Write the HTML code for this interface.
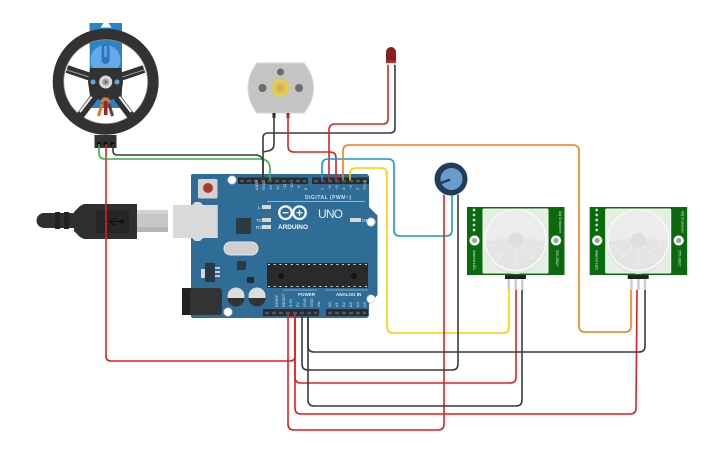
<!DOCTYPE html>
<html><head><meta charset="utf-8"><style>
html,body{margin:0;padding:0;background:#fff;width:725px;height:453px;overflow:hidden}
svg{display:block;font-family:"Liberation Sans",sans-serif}
.w{fill:none;stroke-width:1.6;stroke-linejoin:round}
</style></head><body>
<svg width="725" height="453" viewBox="0 0 725 453" xmlns="http://www.w3.org/2000/svg">
<defs>
<g id="pir">
<rect x="467" y="207" width="97.5" height="68" fill="#0b6a0e"/>
<rect x="483" y="209" width="65" height="64" rx="1" fill="#e3efe3" stroke="#f6f6f6"/>
<circle cx="515.500" cy="240" r="31" fill="#ececec"/>
<path d="M484.500 243a31 31 0 0 0 62 0q-4-5-31-5t-31 5z" fill="#e4e4e4"/>
<circle cx="515.500" cy="240" r="30.500" fill="none" stroke="#f8f8f8" stroke-width="1.500"/>
<circle cx="515.500" cy="240" r="23" fill="none" stroke="#f2f2f2" stroke-width=".6" stroke-dasharray="3 2"/>
<g stroke="#f2f2f2" stroke-width=".6"><path d="M515.500 232v-20M515.500 248v20M507.500 240h-20M523.500 240h20M510 234l-13-13M521 234l13-13M510 246l-13 13M521 246l13 13"/></g>
<circle cx="515.500" cy="240" r="7.500" fill="#dedede"/>
<circle cx="474.500" cy="240.500" r="5" fill="#fff" stroke="#bbb" stroke-width=".5"/>
<circle cx="474.500" cy="240.500" r="2.600" fill="#8eae8e"/>
<circle cx="556" cy="240.500" r="5" fill="#fff" stroke="#bbb" stroke-width=".5"/>
<circle cx="556" cy="240.500" r="2.600" fill="#8eae8e"/>
<g fill="#c9d9c9"><circle cx="474" cy="210" r="1.400"/><circle cx="474" cy="215" r="1.400"/><circle cx="474" cy="220" r="1.400"/><circle cx="474" cy="225" r="1.400"/><circle cx="474" cy="230" r="1.400"/></g>
<text transform="translate(559,211) rotate(90)" font-size="3.500" fill="#d8e8d8">Adj Crossover</text>
<text transform="translate(473,250) rotate(90)" font-size="3.500" fill="#d8e8d8">Adafruit LED</text>
<text transform="translate(556,250) rotate(90)" font-size="3.500" fill="#d8e8d8">555-28027</text>
<rect x="505" y="275" width="21" height="4" fill="#222"/>
<rect x="507.500" y="279" width="2.500" height="11" fill="#ccc"/>
<rect x="514.500" y="279" width="2.500" height="11" fill="#ccc"/>
<rect x="521" y="279" width="2.500" height="11" fill="#ccc"/>
</g>
</defs>

<!-- USB plug -->
<path d="M44 213H74V228H44a7.500 7.500 0 0 1 0-15z" fill="#2f2f2f"/>
<path d="M55 212h5v17h-5zM64 212h5v17h-5z" fill="#222"/>
<path d="M74 212l6-6 4-2H137V239H84l-4-2-6-6z" fill="#2f2f2f"/>
<rect x="96" y="211" width="33" height="22" fill="#262626"/>
<path d="M103 221.500h20M110 221.500l4-3h3M110 221.500l3 3h3" stroke="#111" fill="none"/>
<circle cx="122" cy="221.500" r="2" fill="#111"/>
<rect x="137" y="210" width="31" height="22" fill="#c6c6c6"/>
<rect x="137" y="210" width="31" height="4" fill="#d4d4d4"/>
<rect x="137" y="227" width="31" height="5" fill="#b5b5b5"/>

<!-- Arduino board -->
<path d="M193 174H367l2 2V207l8.500 8.500V295L369 304V316l-2 2H193q-2 0-2-2V176q0-2 2-2z" fill="#2f6c96"/>
<!-- holes -->
<circle cx="232" cy="180" r="4" fill="#fff" stroke="#d8d8d8"/>
<circle cx="371" cy="222" r="4" fill="#fff" stroke="#d8d8d8"/>
<circle cx="371" cy="299" r="4" fill="#fff" stroke="#d8d8d8"/>
<circle cx="228" cy="312" r="4" fill="#fff" stroke="#d8d8d8"/>
<!-- headers -->
<g fill="#2b2b2b">
<rect x="238" y="177.500" width="70" height="6.500"/>
<rect x="312" y="177.500" width="57" height="6.500"/>
<rect x="263" y="309" width="56" height="7"/>
<rect x="326" y="309" width="42" height="7"/>
</g>
<path d="M240 181h66M314 181h53M265 313h52M328 313h38" stroke="#555" stroke-width="2.500" stroke-dasharray="4 3" fill="none"/>
<!-- reset -->
<rect x="198" y="179" width="19.500" height="19.500" rx="1.500" fill="#d2d2d2"/>
<circle cx="208" cy="188" r="5" fill="#a93b2a"/>
<!-- USB connector on board -->
<rect x="173" y="205" width="45" height="33" fill="#d9d9d9"/>
<rect x="217" y="205" width="1" height="33" fill="#bbb"/>
<path d="M192 205l3-3h5l3 3zM192 238l3 3h5l3-3z" fill="#d9d9d9"/>
<!-- chips -->
<rect x="236" y="218" width="15" height="16" rx="1" fill="#2c3a44"/>
<rect x="237" y="261" width="9" height="9" rx="1" fill="#2c3a44"/>
<rect x="224" y="242" width="34" height="13" rx="6.500" fill="#cfcfcf" stroke="#e6e6e6"/>
<rect x="205" y="263" width="10" height="19" fill="#283844"/>
<rect x="201" y="269" width="4" height="9" fill="#d5d5d5"/>
<path d="M215 267h5v2h-5zM215 275h5v2h-5zM215 271h5v2h-5z" fill="#c8c8c8"/>
<rect x="247" y="277" width="7" height="6" fill="#2a2a2a"/>
<rect x="267" y="263" width="101" height="25" rx="1" fill="#2a2a2a"/>
<path d="M268 264.500h99M268 286.500h99" stroke="#ddd" stroke-width="1" stroke-dasharray="2 3.700"/>
<circle cx="281" cy="276" r="3" fill="#161616"/>
<circle cx="354" cy="276" r="3" fill="#161616"/>
<!-- power jack -->
<rect x="182" y="288" width="12" height="27" fill="#222"/>
<rect x="190" y="288" width="32" height="27" rx="3" fill="#333"/>
<!-- caps -->
<circle cx="236" cy="296" r="8.500" fill="#dcdcdc"/>
<path d="M227.500 298h17a8.500 8.500 0 0 1-17 0z" fill="#333"/>
<circle cx="257" cy="296" r="8.500" fill="#dcdcdc"/>
<path d="M248.500 298h17a8.500 8.500 0 0 1-17 0z" fill="#333"/>
<!-- LEDs -->
<g fill="#d7d7d7"><rect x="262" y="205" width="9" height="4"/><rect x="262" y="218" width="9" height="4"/><rect x="262" y="225" width="9" height="4"/><rect x="350" y="218" width="11" height="4"/></g>
<!-- board text -->
<g fill="#e8eef3" font-size="4.500">
<text x="258" y="209">L</text><text x="256" y="222">TX</text><text x="256" y="229">RX</text><text x="362" y="222">ON</text>
<text x="305" y="199" font-size="5" font-weight="bold" textLength="46" fill="#cfdde8">DIGITAL (PWM~)</text>
<text x="298" y="296" font-size="4.500" font-weight="bold">POWER</text>
<text x="336" y="296" font-size="4.500" font-weight="bold">ANALOG IN</text>
</g>
<g fill="#dfe8ef" font-size="4">
<text transform="translate(258,190) rotate(-90)">AREF</text>
<text transform="translate(265,190) rotate(-90)">GND</text>
<text transform="translate(272,190) rotate(-90)">13</text>
<text transform="translate(279,190) rotate(-90)">12</text>
<text transform="translate(286,190) rotate(-90)">~11</text>
<text transform="translate(293,190) rotate(-90)">~10</text>
<text transform="translate(300,190) rotate(-90)">~9</text>
<text transform="translate(307,190) rotate(-90)">8</text>
<text transform="translate(324,190) rotate(-90)">7</text>
<text transform="translate(331,190) rotate(-90)">~6</text>
<text transform="translate(338,190) rotate(-90)">~5</text>
<text transform="translate(345,190) rotate(-90)">4</text>
<text transform="translate(352,190) rotate(-90)">~3</text>
<text transform="translate(359,190) rotate(-90)">2</text>
<text transform="translate(366,190) rotate(-90)">TX&gt;1</text>
<text transform="translate(278,307) rotate(-90)">IOREF</text>
<text transform="translate(285,307) rotate(-90)">RESET</text>
<text transform="translate(292,307) rotate(-90)">3.3V</text>
<text transform="translate(299,307) rotate(-90)">5V</text>
<text transform="translate(306,307) rotate(-90)">GND</text>
<text transform="translate(313,307) rotate(-90)">GND</text>
<text transform="translate(320,307) rotate(-90)">Vin</text>
<text transform="translate(331,307) rotate(-90)">A0</text>
<text transform="translate(338,307) rotate(-90)">A1</text>
<text transform="translate(345,307) rotate(-90)">A2</text>
<text transform="translate(352,307) rotate(-90)">A3</text>
<text transform="translate(359,307) rotate(-90)">A4</text>
<text transform="translate(366,307) rotate(-90)">A5</text>
</g>
<path d="M267 201.700H365M283 290h34M325 290h43" stroke="#d5e0e8" stroke-width=".6"/>
<!-- Arduino logo -->
<g fill="none" stroke="#f4f7fa" stroke-width="2.300">
<circle cx="285.500" cy="212.700" r="6.300"/><circle cx="299.500" cy="212.700" r="6.300"/>
</g>
<path d="M282.500 212.700h6M296.500 212.700h6M299.500 209.700v6" stroke="#f4f7fa" stroke-width="1.300"/>
<text x="278" y="229" font-size="6.500" font-weight="bold" fill="#f2f6f9" textLength="30">ARDUINO</text>
<text x="318" y="218" font-size="12" fill="#e6edf3" textLength="25">UNO</text>

<!-- PIR -->
<use href="#pir"/>
<use href="#pir" transform="translate(122.700,0)"/>

<!-- Potentiometer -->
<rect x="443" y="190" width="1.500" height="6" fill="#bbb"/><rect x="450.500" y="190" width="1.500" height="6" fill="#bbb"/><rect x="457" y="190" width="1.500" height="6" fill="#bbb"/>
<circle cx="451" cy="179" r="16.500" fill="#203e58"/>
<circle cx="451.500" cy="179" r="11" fill="#6a9ccd"/>
<path d="M441 183l8-3" stroke="#203e58" stroke-width="2.500" stroke-linecap="round"/>

<!-- Motor -->
<path d="M257 63H304Q313.500 75 313.500 88T304 113H257Q248 101 248 88T257 63z" fill="#c4c4c4" stroke="#d4d4d4" stroke-width="1"/>
<circle cx="262.500" cy="88" r="4" fill="#6c6c6c"/><circle cx="299" cy="88" r="4" fill="#6c6c6c"/><circle cx="280.500" cy="72" r="3.500" fill="#6c6c6c"/>
<circle cx="280.500" cy="88" r="7.500" fill="#e8c93a"/>
<path d="M280.500 78v20M270.500 88h20M273.500 81l14 14M287.500 81l-14 14" stroke="#e8c93a" stroke-width="2.500"/>
<circle cx="280.500" cy="88" r="4" fill="#c8b76a"/>
<rect x="272.500" y="113" width="3" height="5" fill="#222"/>
<rect x="286.500" y="113" width="3" height="5" fill="#a22"/>

<!-- LED -->
<path d="M386 62V52a5 5 0 0 1 10 0V62z" fill="#87201f"/>
<rect x="386" y="60.500" width="10" height="2.500" fill="#a33"/>
<path d="M388 63v4M394.500 63v4" stroke="#bbb" stroke-width="1.300"/>

<!-- Servo -->
<path d="M89.500 23h14l-3 4.500h11l-3-4.500h3.500H122V108H90z" fill="#2c83c6"/>
<circle cx="105.500" cy="60" r="15" fill="#66a9ea"/>
<rect x="101.500" y="44" width="8" height="20" rx="4" fill="#2c78b5"/>
<rect x="104" y="46" width="3" height="11" fill="#5a9fe0"/>
<path d="M102 104l-3.500 12" stroke="#d57b2a" stroke-width="3"/>
<path d="M109 104l3.500 12" stroke="#6e3a24" stroke-width="3"/>
<circle cx="105.700" cy="81.700" r="47.500" fill="none" stroke="#323232" stroke-width="11"/>
<circle cx="105.700" cy="81.700" r="42" fill="none" stroke="#8a8a8a" stroke-width=".8"/>
<g stroke="#323232" stroke-width="8">
<path d="M105.500 82L67 69M105.500 82L144 69M105.500 82L80 116M105.500 82L131 116"/>
</g>
<g stroke="#9a9a9a" stroke-width="1"><path d="M67 70l22 7M144 70l-22 7"/><path d="M80 112l13-17M131 112l-13-17" stroke="#f2f2f2" stroke-width="2"/></g>
<path d="M90 68h31l2 14-2 14-10 4H100l-10-4-2-14z" fill="#323232"/>
<path d="M101 100a5 5 0 0 1 9 0v2h-9z" fill="#d57b2a"/>
<rect x="104" y="101" width="3.500" height="14" fill="#aa1f1f"/>
<circle cx="105.700" cy="82" r="6.500" fill="#d8d8d8"/>
<circle cx="105.700" cy="82" r="3.500" fill="#a8a8a8"/>
<path d="M103.500 82h4.500M105.700 79.800v4.500" stroke="#555" stroke-width=".8"/>
<circle cx="93" cy="82" r="2.500" fill="#5da6ea"/><circle cx="117" cy="82" r="2.500" fill="#5da6ea"/>
<rect x="94.500" y="135" width="22" height="13" fill="#333"/>
<g fill="#111"><rect x="97" y="142" width="4" height="4"/><rect x="103.500" y="142" width="4" height="4"/><rect x="110.500" y="142" width="4" height="4"/></g>

<!-- Wires -->
<g class="wires">
<path class="w" stroke="#e02020" d="M295 313V356q0 5-5 5H111q-5 0-5-5V144"/>
<path class="w" stroke="#3a3a3a" d="M113 144V151q0 4 4 4H255q8 0 8 8V180"/>
<path class="w" stroke="#35b045" d="M99 144V153q0 6 6 6H260q10 0 10 10V180"/>
<path class="w" stroke="#3a3a3a" d="M274 115V144q0 6-6 7l-5 1"/>
<path class="w" stroke="#3a3a3a" d="M395 65V128q0 5-5 5H268q-5 0-5 5V180"/>
<path class="w" stroke="#e02020" d="M388 65V119q0 5-5 5H335q-6 0-6 6V180"/>
<path class="w" stroke="#e02020" d="M288 115V146q0 6 6 6H330q6 0 6 6V180"/>
<path class="w" stroke="#0f9bd7" d="M322 180V165q0-6 6-6H388q6 0 6 6V230q0 6 6 6H446q6 0 6-6V195"/>
<path class="w" stroke="#ef7f10" d="M343 180V151q0-6 6-6H573q6 0 6 6V326q0 6 6 6H625q6 0 6-6V290"/>
<path class="w" stroke="#f5d000" d="M350 180V174q0-6 6-6H381q6 0 6 6V327q0 6 6 6H503q6 0 6-6V290"/>
<path class="w" stroke="#e02020" d="M444 195V424q0 6-6 6H294q-6 0-6-6V313"/>
<path class="w" stroke="#3a3a3a" d="M458 195V364q0 6-6 6H308q-6 0-6-6V313"/>
<path class="w" stroke="#e02020" d="M516 290V377q0 6-6 6H301q-6 0-6-6V313"/>
<path class="w" stroke="#3a3a3a" d="M522 290V400q0 6-6 6H314q-6 0-6-6V313"/>
<path class="w" stroke="#e02020" d="M637 290L636 408q0 6-6 6H301q-6 0-6-6V313"/>
<path class="w" stroke="#3a3a3a" d="M645 290V346q0 6-6 6H314q-6 0-6-6V313"/>
</g>
</svg>
</body></html>
